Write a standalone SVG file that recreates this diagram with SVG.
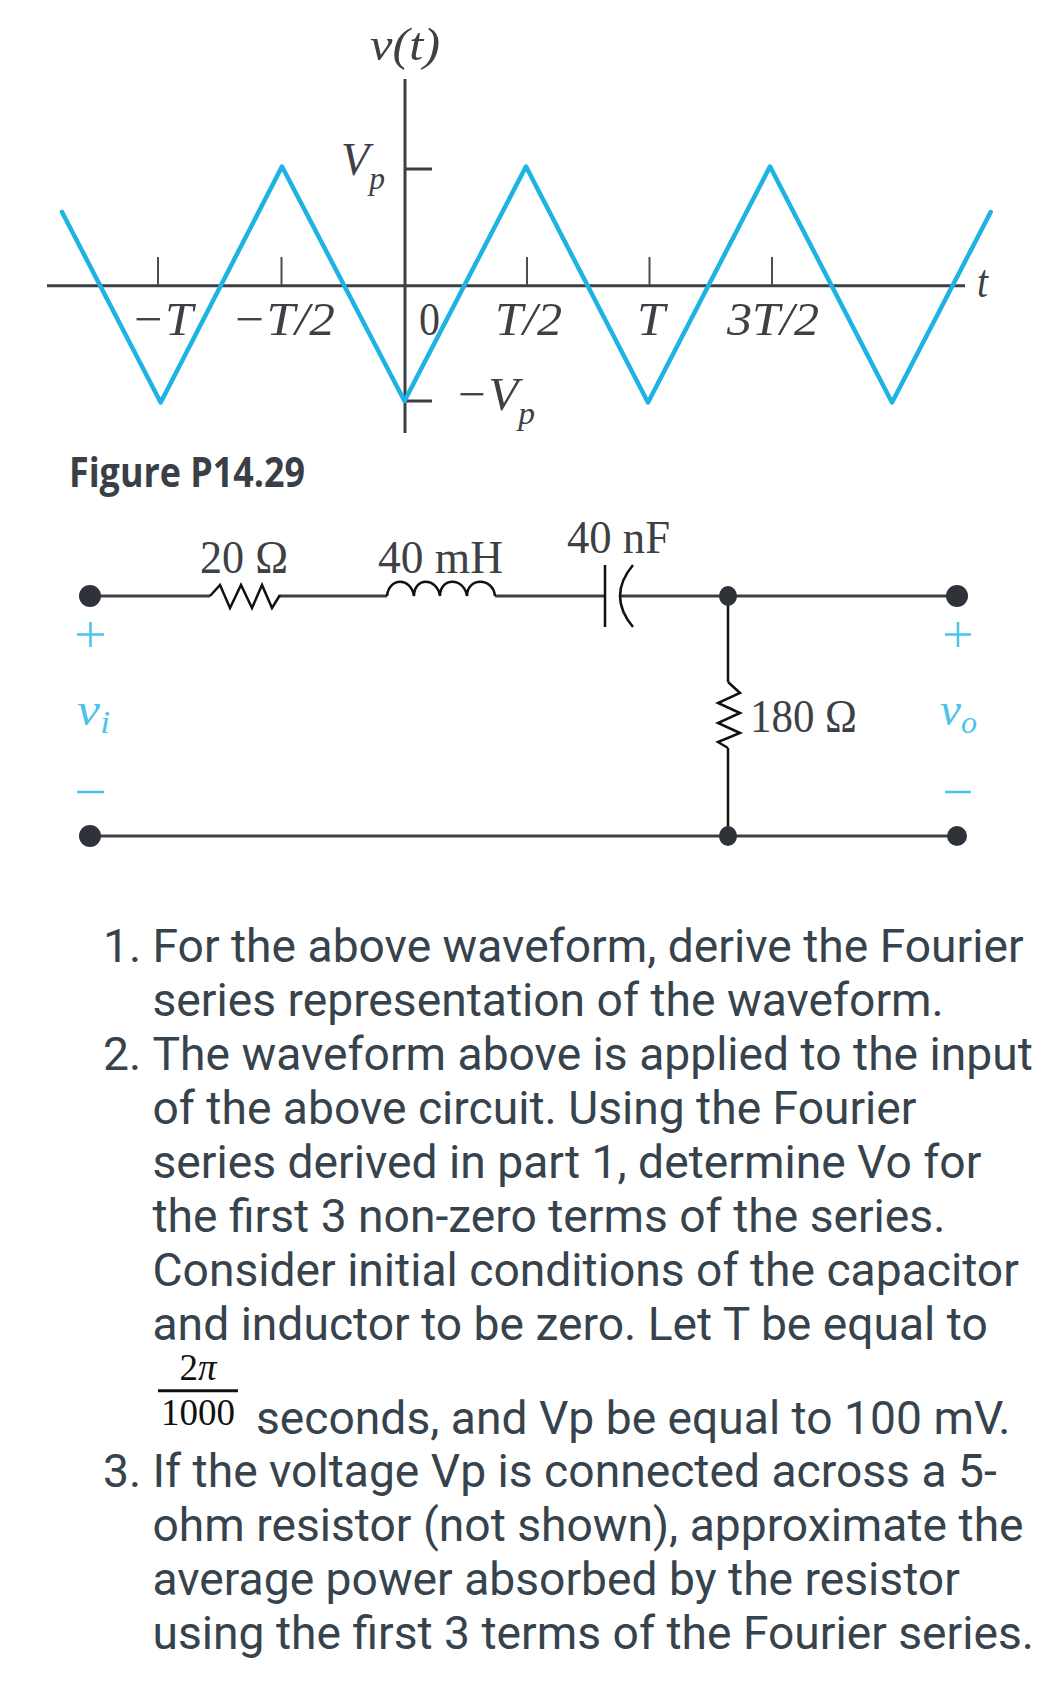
<svg xmlns="http://www.w3.org/2000/svg" width="1045" height="1681" viewBox="0 0 1045 1681">
<style>
.w{fill:none;stroke:#3c3f44;stroke-width:3}
.t{fill:none;stroke:#4a4d52;stroke-width:2}
.c{fill:none;stroke:#111;stroke-width:2.5}
.cy{fill:none;stroke:#1eb3e3;stroke-width:4.5;stroke-linejoin:round;stroke-linecap:round}
.pol{fill:none;stroke:#4cc3ea;stroke-width:2.5}
.m{font-family:"Liberation Serif",serif;font-size:47px;fill:#3d4045}
.i{font-style:italic}
.sub{font-size:32px}
.b{fill:#2e3239}
.cl{font-family:"Liberation Serif",serif;font-style:italic;font-size:47px;fill:#4cc3ea}
.body{font-family:Roboto,sans-serif;font-size:46.200px;fill:#37434c}
.fr{font-family:"Liberation Serif",serif;font-size:37px;fill:#111}
</style>
<g id="waveform-plot">
<path class="w" d="M47 285.700H965M405 79V433"/>
<path class="t" d="M158 257V285M281.500 257V285M527 257V285M649.500 257V285M772 257V285"/>
<path class="w" d="M405 169H432M405 401H432"/>
<path class="cy" d="M62 212L160.700 402.500L282 166.500L404.500 401L526 166.500L648 402.500L770 166.500L892 402.500L990.700 212"/>
<text class="m i" x="370" y="60" textLength="70" lengthAdjust="spacingAndGlyphs">v(t)</text>
<text class="m i" x="341" y="175" textLength="44" lengthAdjust="spacingAndGlyphs">V<tspan class="sub" dy="14">p</tspan></text>
<text class="m i" x="131" y="335" textLength="62" lengthAdjust="spacingAndGlyphs">−T</text>
<text class="m i" x="232" y="335" textLength="103" lengthAdjust="spacingAndGlyphs">−T/2</text>
<text class="m" x="419" y="335" textLength="21" lengthAdjust="spacingAndGlyphs">0</text>
<text class="m i" x="495" y="335" textLength="67" lengthAdjust="spacingAndGlyphs">T/2</text>
<text class="m i" x="637" y="335" textLength="28" lengthAdjust="spacingAndGlyphs">T</text>
<text class="m i" x="727" y="335" textLength="92" lengthAdjust="spacingAndGlyphs">3T/2</text>
<text class="m i" x="455" y="410" textLength="80" lengthAdjust="spacingAndGlyphs">−V<tspan class="sub" dy="14">p</tspan></text>
<text class="m i" x="977" y="297" textLength="11" lengthAdjust="spacingAndGlyphs">t</text>
</g>
<text id="figure-caption" x="69" y="487" textLength="236" lengthAdjust="spacingAndGlyphs" style="font-family:'Open Sans',sans-serif;font-weight:700;font-size:41px;fill:#3a3f47">Figure P14.29</text>
<g id="connectors">
<path class="w" d="M90 596H210M280 596H387M495 596H605M620 596H957M90 836H957"/>
<path class="c" d="M728 596V682M728 748V836"/>
</g>
<g id="R1"><path class="c" d="M210 596L220 585L230 608L241 585L252 608L262 585L272 608L280 595"/>
<text class="m" x="200" y="573" textLength="88" lengthAdjust="spacingAndGlyphs">20 Ω</text></g>
<g id="L1"><path class="c" d="M387 596C389 577 411 577 414 596C414 577 437 577 440 596C440 577 464 577 467 596C467 577 493 577 495 596"/>
<text class="m" x="378" y="573" textLength="125" lengthAdjust="spacingAndGlyphs">40 mH</text></g>
<g id="C1"><path class="c" d="M605 565V627M633 565Q607 596 633 627"/>
<text class="m" x="567" y="553" textLength="103" lengthAdjust="spacingAndGlyphs">40 nF</text></g>
<g id="R2"><path class="c" d="M728 682L740 693L718 703L740 713L718 723L740 733L718 742L728 748"/>
<text class="m" x="750" y="732" textLength="107" lengthAdjust="spacingAndGlyphs">180 Ω</text></g>
<g id="node-in-top"><ellipse class="b" cx="90" cy="596" rx="11" ry="11"/></g>
<g id="node-mid-top"><ellipse class="b" cx="728" cy="596" rx="9" ry="10"/></g>
<g id="node-out-top"><ellipse class="b" cx="957" cy="596" rx="11" ry="11"/></g>
<g id="node-in-bottom"><ellipse class="b" cx="90" cy="836" rx="11" ry="11"/></g>
<g id="node-mid-bottom"><ellipse class="b" cx="728" cy="836" rx="9" ry="10"/></g>
<g id="node-out-bottom"><ellipse class="b" cx="957" cy="836" rx="10" ry="10"/></g>
<g id="input-polarity"><path class="pol" d="M77 634.500H104M90.500 622V647M77 792H104"/>
<text class="cl" x="77" y="725" textLength="33" lengthAdjust="spacingAndGlyphs">v<tspan class="sub" dy="8">i</tspan></text></g>
<g id="output-polarity"><path class="pol" d="M945 634.500H971M958 622V647M945 792H971"/>
<text class="cl" x="940" y="725" textLength="37" lengthAdjust="spacingAndGlyphs">v<tspan class="sub" dy="8">o</tspan></text></g>
<g id="question-text">
<text class="body" x="103" y="962">1.</text>
<text class="body" x="152.500" y="962">For the above waveform, derive the Fourier</text>
<text class="body" x="152.500" y="1016">series representation of the waveform.</text>
<text class="body" x="103" y="1070">2.</text>
<text class="body" x="152.500" y="1070">The waveform above is applied to the input</text>
<text class="body" x="152.500" y="1124">of the above circuit. Using the Fourier</text>
<text class="body" x="152.500" y="1178">series derived in part 1, determine Vo for</text>
<text class="body" x="152.500" y="1232">the first 3 non-zero terms of the series.</text>
<text class="body" x="152.500" y="1286">Consider initial conditions of the capacitor</text>
<text class="body" x="152.500" y="1340">and inductor to be zero. Let T be equal to</text>
<text class="fr" x="198" y="1380" text-anchor="middle">2<tspan font-style="italic">π</tspan></text>
<path d="M158 1390.700H238" stroke="#111" stroke-width="3" fill="none"/>
<text class="fr" x="198" y="1425" text-anchor="middle">1000</text>
<text class="body" x="256" y="1434">seconds, and Vp be equal to 100 mV.</text>
<text class="body" x="103" y="1487">3.</text>
<text class="body" x="152.500" y="1487">If the voltage Vp is connected across a 5-</text>
<text class="body" x="152.500" y="1541">ohm resistor (not shown), approximate the</text>
<text class="body" x="152.500" y="1595">average power absorbed by the resistor</text>
<text class="body" x="152.500" y="1649">using the first 3 terms of the Fourier series.</text>
</g>
</svg>
